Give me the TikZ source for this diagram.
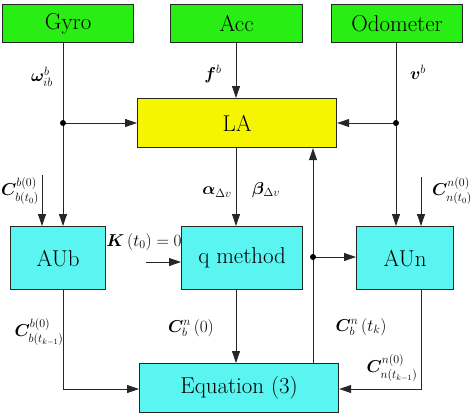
\documentclass[tikz,border=0pt]{standalone}
\usepackage{amsmath,bm}
\usetikzlibrary{arrows.meta}
\definecolor{boxgreen}{RGB}{40,238,20}
\definecolor{boxyellow}{RGB}{245,245,0}
\definecolor{boxcyan}{RGB}{90,245,240}
\definecolor{edgecol}{RGB}{35,40,35}
\tikzset{
  blk/.style={draw=edgecol, line width=1.2bp, inner sep=0pt, anchor=north west, font=\fontsize{23}{26}\selectfont},
  con/.style={line width=0.8bp, draw=black!85},
  arr/.style={con, -{Triangle[length=12bp,width=8bp]}},
  lbl/.style={inner sep=0pt, font=\fontsize{17}{20}\selectfont},
  dot/.style={circle, fill=black, inner sep=0pt, minimum size=6bp},
}
\begin{document}
\begin{tikzpicture}[x=1bp,y=-1bp]
\useasboundingbox (0,0) rectangle (474,413);
% boxes
\node[blk, fill=boxgreen, minimum width=131bp, minimum height=38bp] (gyro) at (2,4) {Gyro};
\node[blk, fill=boxgreen, minimum width=132bp, minimum height=38bp] (acc) at (170,4) {Acc};
\node[blk, fill=boxgreen, minimum width=131bp, minimum height=38bp] (odo) at (331,4) {Odometer};
\node[blk, fill=boxyellow, minimum width=199bp, minimum height=49bp] (la) at (137,98) {LA};
\node[blk, fill=boxcyan, minimum width=95bp, minimum height=63bp] (aub) at (10,226) {AUb};
\node[blk, fill=boxcyan, minimum width=121bp, minimum height=63bp] (qm) at (181,226) {q method};
\node[blk, fill=boxcyan, minimum width=97bp, minimum height=63bp] (aun) at (356,226) {AUn};
\node[blk, fill=boxcyan, minimum width=199bp, minimum height=49bp] (eq) at (139,363) {Equation (3)};
% junction coordinates
\coordinate (gj) at (63,123);
\coordinate (oj) at (396,123);
\coordinate (ax) at (236,0);
\coordinate (cb0) at (42,175);
\coordinate (cn0) at (421,177);
\coordinate (kin) at (146,262);
\coordinate (vj) at (313,257);
\coordinate (aubc) at (63,389);
\coordinate (aunc) at (421,389);
% connectors
\draw[arr] (gyro.south -| gj) -- (gj |- aub.north);
\draw[arr] (gj) -- (la.west |- gj);
\node[dot] at (gj) {};
\draw[arr] (acc.south -| ax) -- (la.north -| ax);
\draw[arr] (odo.south -| oj) -- (oj |- aun.north);
\draw[arr] (oj) -- (la.east |- oj);
\node[dot] at (oj) {};
\draw[arr] (cb0) -- (cb0 |- aub.north);
\draw[arr] (cn0) -- (cn0 |- aun.north);
\draw[arr] (la.south -| ax) -- (qm.north -| ax);
\draw[arr] (kin) -- (qm.west |- kin);
\draw[arr] (qm.south -| ax) -- (eq.north -| ax);
\draw[arr] (eq.north -| vj) -- (la.south -| vj);
\draw[arr] (vj) -- (aun.west |- vj);
\node[dot] at (vj) {};
\draw[arr] (aub.south -| aubc) -- (aubc) -- (eq.west |- aubc);
\draw[arr] (aun.south -| aunc) -- (aunc) -- (eq.east |- aunc);
% labels
\node[lbl] (lw) at (42,77) {$\boldsymbol{\omega}^{b}_{ib}$};
\node[lbl] (lf) at (213,74) {$\boldsymbol{f}^{b}$};
\node[lbl] (lv) at (418,72) {$\boldsymbol{v}^{b}$};
\node[lbl] (la1) at (217,192) {$\boldsymbol{\alpha}_{\Delta v}$};
\node[lbl] (lb1) at (266,190) {$\boldsymbol{\beta}_{\Delta v}$};
\node[lbl] (lcb0) at (20,191) {$\boldsymbol{C}^{b(0)}_{b(t_0)}$};
\node[lbl] (lcn0) at (452,191) {$\boldsymbol{C}^{n(0)}_{n(t_0)}$};
\node[lbl] (lk) at (144,242) {$\boldsymbol{K}\left(t_0\right)=0$};
\node[lbl] (lcbk) at (39,332) {$\boldsymbol{C}^{b(0)}_{b(t_{k-1})}$};
\node[lbl] (lcnb) at (191,328) {$\boldsymbol{C}^{n}_{b}\left(0\right)$};
\node[lbl] (lcnt) at (361,327) {$\boldsymbol{C}^{n}_{b}\left(t_k\right)$};
\node[lbl] (lcnk) at (392,368) {$\boldsymbol{C}^{n(0)}_{n(t_{k-1})}$};
\end{tikzpicture}
\end{document}
